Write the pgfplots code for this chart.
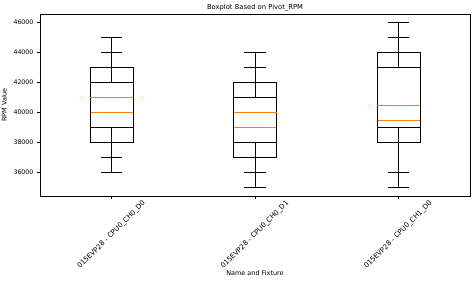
\documentclass[border=0pt]{standalone}
\usepackage{pgfplots}
\pgfplotsset{compat=1.18}
\usepgfplotslibrary{statistics}
\usepackage{fontspec}
\setmainfont{DejaVu Sans}
\definecolor{mplorange}{HTML}{FF7F0E}

\pgfplotsset{
  boxplot/every median/.style={draw=mplorange, line width=0.9bp},
  mplbox/.style={black, solid, mark=none, line width=0.6bp},
}

\begin{document}
\begin{tikzpicture}
\path[use as bounding box] (-40bp,-86bp) rectangle (434bp,196bp);
% RPM values are given in thousands (kRPM); tick labels print full RPM
\begin{axis}[
  at={(0,0)}, anchor=south west,
  scale only axis,
  width=430bp, height=182bp,
  xmin=0.5, xmax=3.5,
  ymin=34.45, ymax=46.55,
  xtick={1,2,3},
  xticklabels={015EVP28 - CPU0\_CH0\_D0, 015EVP28 - CPU0\_CH0\_D1, 015EVP28 - CPU0\_CH1\_D0},
  ytick={36,38,40,42,44,46},
  yticklabels={36000,38000,40000,42000,44000,46000},
  tick align=outside,
  tick pos=left,
  major tick length=3bp,
  every tick/.style={black, line width=0.5bp},
  axis line style={line width=0.6bp},
  tick label style={font=\fontsize{6.3}{7}\selectfont},
  xticklabel style={rotate=45, anchor=center, font=\fontsize{7}{8}\selectfont},
  xticklabel shift=36bp,
  xlabel={Name and Fixture},
  xlabel style={at={(axis description cs:0.5,0)}, anchor=center, yshift=-77bp},
  ylabel={RPM Value},
  label style={font=\fontsize{6.5}{7.5}\selectfont},
  boxplot/draw direction=y,
]
% 015EVP28 - CPU0_CH0_D0
\addplot+[boxplot prepared={draw position=1,
  lower whisker=36, lower quartile=38, median=40,
  upper quartile=43, upper whisker=45, box extend=0.3, whisker extend=0.15}, mplbox] coordinates {};
\addplot+[boxplot prepared={draw position=1,
  lower whisker=37, lower quartile=39, median=41,
  upper quartile=42, upper whisker=44, box extend=0.3, whisker extend=0.15}, mplbox] coordinates {};
% 015EVP28 - CPU0_CH0_D1
\addplot+[boxplot prepared={draw position=2,
  lower whisker=35, lower quartile=37, median=39,
  upper quartile=42, upper whisker=44, box extend=0.3, whisker extend=0.15}, mplbox] coordinates {};
\addplot+[boxplot prepared={draw position=2,
  lower whisker=36, lower quartile=38, median=40,
  upper quartile=41, upper whisker=43, box extend=0.3, whisker extend=0.15}, mplbox] coordinates {};
% 015EVP28 - CPU0_CH1_D0
\addplot+[boxplot prepared={draw position=3,
  lower whisker=35, lower quartile=38, median=39.5,
  upper quartile=44, upper whisker=46, box extend=0.3, whisker extend=0.15}, mplbox] coordinates {};
\addplot+[boxplot prepared={draw position=3,
  lower whisker=36, lower quartile=39, median=40.5,
  upper quartile=43, upper whisker=45, box extend=0.3, whisker extend=0.15}, mplbox] coordinates {};
\end{axis}
% chart title, centred above the axis box
\node[anchor=center, font=\fontsize{6.8}{7.5}\selectfont]
  at ([yshift=6.5bp]current axis.north) {Boxplot Based on Pivot\_RPM};
\end{tikzpicture}
\end{document}
